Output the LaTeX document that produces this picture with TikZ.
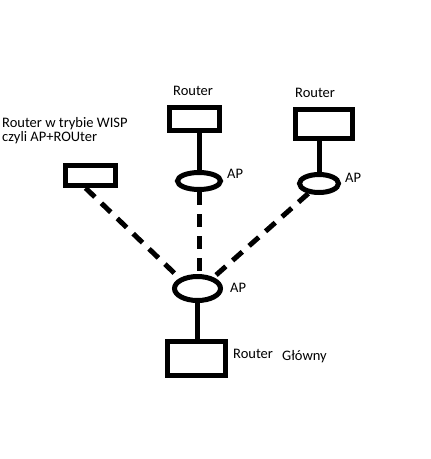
\documentclass[tikz,border=0pt]{standalone}
\usepackage{fontspec}
\setmainfont{Carlito}
\usetikzlibrary{shapes.geometric}
\begin{document}
\begin{tikzpicture}[x=1pt,y=-1pt,
  box/.style={draw,line width=5pt,rectangle,inner sep=0pt},
  apnode/.style={draw,line width=5pt,ellipse,inner sep=0pt},
  link/.style={line width=5pt},
  wlink/.style={line width=5pt,dash pattern=on 13pt off 9pt},
  lbl/.style={anchor=base west,inner sep=0pt,font=\fontsize{14.5}{17}\selectfont}]
\useasboundingbox[fill=white] (0,0) rectangle (431,459);
% routers
\node[box,minimum width=50pt,minimum height=20pt] (wisp) at (90.5,175.5) {};
\node[box,minimum width=50pt,minimum height=23pt] (rm) at (194.5,119) {};
\node[box,minimum width=57pt,minimum height=29pt] (rr) at (324,124) {};
\node[box,minimum width=58pt,minimum height=34pt] (main) at (196.5,358.5) {};
% access points
\node[apnode,minimum width=43pt,minimum height=17pt] (apm) at (199,181) {};
\node[apnode,minimum width=39pt,minimum height=18pt] (apr) at (319,183.5) {};
\node[apnode,minimum width=46pt,minimum height=24pt] (apb) at (197.5,288.5) {};
% connectors
\draw[link] (apm.north |- rm.south) -- (apm.north);
\draw[link] (apr.north |- rr.south) -- (apr.north);
\draw[link] (apb.south) -- (main.north -| apb.south);
\draw[wlink] ([xshift=-5pt]wisp.south) -- (apb.150);
\draw[wlink] (apm.south) -- (apb.north -| apm.south);
\draw[wlink] (apr.223) -- (apb.35);
% labels
\node[lbl] (t1) at (2,127) {Router w trybie WISP};
\node[lbl] (t2) at (2,141) {czyli AP+ROUter};
\node[lbl] (lrm) at (173,95) {Router};
\node[lbl] (lrr) at (295,97) {Router};
\node[lbl] (lapm) at (227,178) {AP};
\node[lbl] (lapr) at (345,182) {AP};
\node[lbl] (lapb) at (230,292) {AP};
\node[lbl] (lmain) at (233,358) {Router};
\node[lbl] (lglow) at (282,360) {Główny};
\end{tikzpicture}
\end{document}
